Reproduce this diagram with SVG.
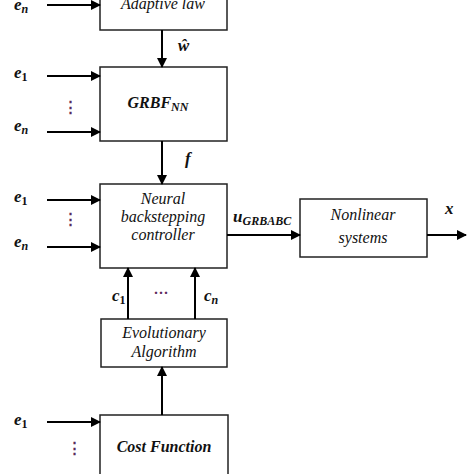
<svg xmlns="http://www.w3.org/2000/svg" width="474" height="474" viewBox="0 0 474 474">
<defs>
<marker id="ah" markerWidth="10" markerHeight="10" refX="9" refY="5" orient="auto" markerUnits="userSpaceOnUse">
<path d="M0,0 L10,5 L0,10 Z" fill="#000"/>
</marker>
<style>
.box{fill:#fff;stroke:#222;stroke-width:1.5}
.t{font-family:"Liberation Serif",serif;font-style:italic;font-size:16px;fill:#111;text-anchor:middle}
.lb{font-family:"Liberation Serif",serif;font-style:italic;font-weight:bold;font-size:17px;fill:#111}
.sub{font-size:12px;font-style:normal}
.subi{font-size:12px}
.dots{font-family:"Liberation Serif",serif;font-weight:bold;font-size:15px;fill:#5a2a5a;text-anchor:middle}
.c{stroke:#000;stroke-width:2;fill:none;marker-end:url(#ah)}
</style>
</defs>
<rect width="474" height="474" fill="#fff"/>
<g id="adaptive">
<rect class="box" x="100" y="-10" width="127" height="40"/>
<text class="t" x="163" y="9">Adaptive law</text>
</g>
<g id="grbf">
<rect class="box" x="100" y="67" width="127" height="74"/>
<text class="t" x="158" y="108" font-weight="bold">GRBF<tspan class="subi" dy="3">NN</tspan></text>
</g>
<g id="neural">
<rect class="box" x="100" y="184" width="127" height="84"/>
<text class="t" x="163" y="204">Neural</text>
<text class="t" x="163" y="222">backstepping</text>
<text class="t" x="163" y="240">controller</text>
</g>
<g id="nonlinear">
<rect class="box" x="300" y="199" width="127" height="58"/>
<text class="t" x="363" y="220">Nonlinear</text>
<text class="t" x="363" y="243">systems</text>
</g>
<g id="evolutionary">
<rect class="box" x="101" y="319" width="126" height="48"/>
<text class="t" x="164" y="338">Evolutionary</text>
<text class="t" x="164" y="357">Algorithm</text>
</g>
<g id="cost">
<rect class="box" x="100" y="415" width="128" height="70"/>
<text class="t" x="164" y="452" font-weight="bold">Cost Function</text>
</g>
<g id="connectors">
<line class="c" x1="47" y1="5" x2="100" y2="5"/>
<line class="c" x1="162" y1="30" x2="162" y2="67"/>
<line class="c" x1="47" y1="76" x2="100" y2="76"/>
<line class="c" x1="47" y1="132" x2="100" y2="132"/>
<line class="c" x1="162" y1="141" x2="162" y2="184"/>
<line class="c" x1="47" y1="200" x2="100" y2="200"/>
<line class="c" x1="47" y1="247" x2="100" y2="247"/>
<line class="c" x1="227" y1="235" x2="300" y2="235"/>
<line class="c" x1="427" y1="235" x2="466" y2="235"/>
<line class="c" x1="128" y1="319" x2="128" y2="268"/>
<line class="c" x1="195" y1="319" x2="195" y2="268"/>
<line class="c" x1="162" y1="415" x2="162" y2="367"/>
<line class="c" x1="47" y1="422" x2="100" y2="422"/>
</g>
<g id="labels">
<text class="lb" x="14" y="10">e<tspan class="subi" dy="3">n</tspan></text>
<text class="lb" x="178" y="51">ŵ</text>
<text class="lb" x="14" y="78">e<tspan class="sub" dy="3">1</tspan></text>
<text class="dots" x="70" y="112">⋮</text>
<text class="lb" x="14" y="131">e<tspan class="subi" dy="3">n</tspan></text>
<text class="lb" x="185" y="164">f</text>
<text class="lb" x="14" y="202">e<tspan class="sub" dy="3">1</tspan></text>
<text class="dots" x="70" y="224">⋮</text>
<text class="lb" x="14" y="247">e<tspan class="subi" dy="3">n</tspan></text>
<text class="lb" x="233" y="222">u<tspan class="subi" dy="3">GRBABC</tspan></text>
<text class="lb" x="445" y="214">x</text>
<text class="lb" x="112" y="301">c<tspan class="sub" dy="3">1</tspan></text>
<text class="dots" x="161" y="298" fill="#222">···</text>
<text class="lb" x="204" y="301">c<tspan class="subi" dy="3">n</tspan></text>
<text class="lb" x="14" y="425">e<tspan class="sub" dy="3">1</tspan></text>
<text class="dots" x="74" y="453" fill="#222">⋮</text>
</g>
</svg>
